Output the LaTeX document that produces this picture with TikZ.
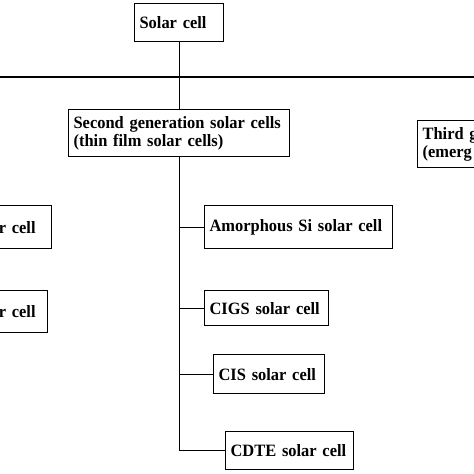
\documentclass[tikz,border=0pt]{standalone}
\usepackage{fontspec}
\setmainfont{Liberation Serif}[FakeStretch=0.95]
\begin{document}
\begin{tikzpicture}[x=1pt,y=-1pt,
  box/.style={draw,line width=1.2pt,rectangle,anchor=north west,inner xsep=5pt,inner ysep=0pt,
    font=\fontsize{17.3}{18}\selectfont\bfseries,align=left},
  conn/.style={line width=1.2pt}]
\useasboundingbox (0,0) rectangle (474,474);
\clip (0,0) rectangle (474,474);
\node[box,minimum width=89pt,minimum height=38pt,text width=79pt] (solar) at (134,3) {Solar cell};
\node[box,minimum width=221pt,minimum height=47pt,text width=211pt] (second) at (68,109) {Second generation solar cells\\(thin film solar cells)};
\node[box,minimum width=200pt,minimum height=47pt,text width=190pt] (third) at (417,120) {Third g\\(emerg};
\node[box,minimum width=151pt,minimum height=43pt,text width=141pt,align=right] (left1) at (-100,205) {\makebox[0pt][r]{r cell\hspace{11pt}}};
\node[box,minimum width=147pt,minimum height=42pt,text width=137pt,align=right] (left2) at (-100,290) {\makebox[0pt][r]{r cell\hspace{7pt}}};
\node[box,minimum width=188pt,minimum height=43pt,text width=178pt] (amorph) at (204,205) {Amorphous Si solar cell};
\node[box,minimum width=124pt,minimum height=35pt,text width=114pt] (cigs) at (204,290) {CIGS solar cell};
\node[box,minimum width=111pt,minimum height=39pt,text width=101pt] (cis) at (213,354) {CIS solar cell};
\node[box,minimum width=128pt,minimum height=38pt,text width=118pt] (cdte) at (225,431) {CDTE solar cell};
\coordinate (hl) at (-5,77);
\coordinate (hr) at (480,77);
\draw[conn] (hl) -- (hr);
\draw[conn] (solar.south) -- (solar.south |- hl) -- (second.north);
\draw[conn] (second.south) |- (cdte.west);
\draw[conn] (second.south |- amorph.west) -- (amorph.west);
\draw[conn] (second.south |- cigs.west) -- (cigs.west);
\draw[conn] (second.south |- cis.west) -- (cis.west);
\end{tikzpicture}
\end{document}
